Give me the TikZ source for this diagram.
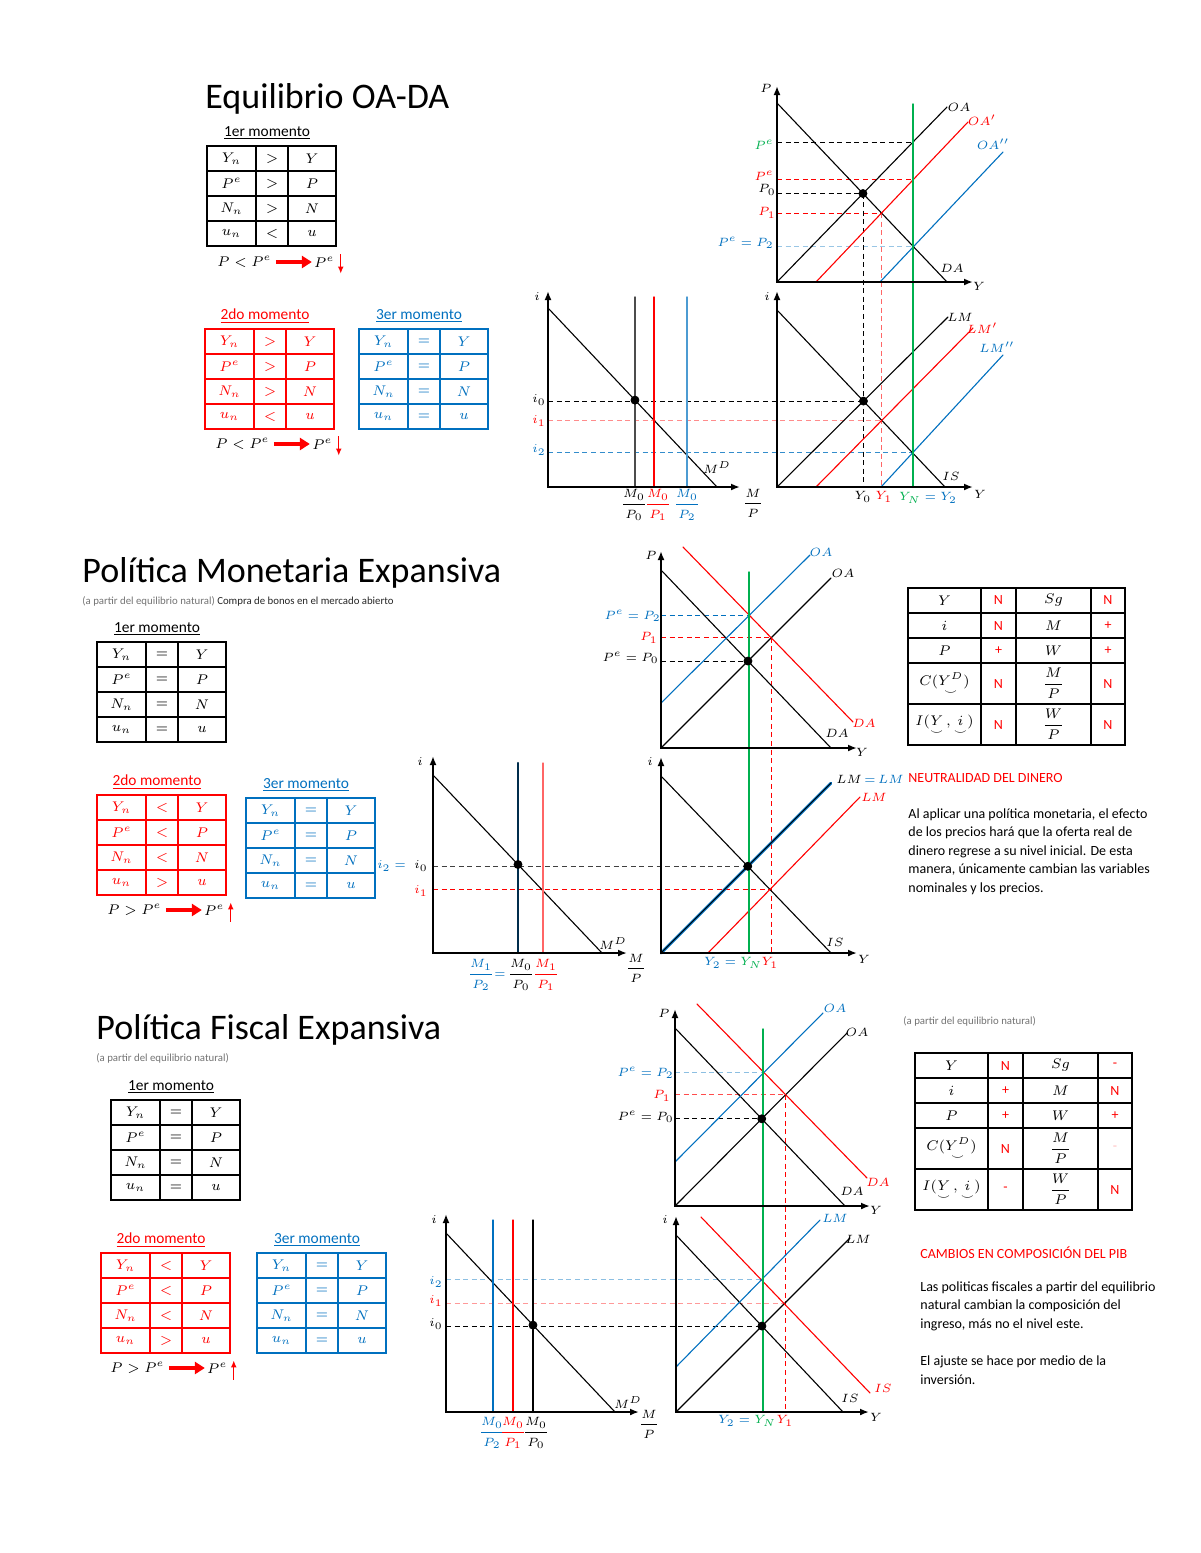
\documentclass[tikz,border=0pt]{standalone}
\usepackage{amsmath}
\usepackage{fontspec}
\setmainfont{Carlito}
\usetikzlibrary{arrows,arrows.meta,calc,positioning}
\usepackage{tkz-euclide}
\definecolor{RedClr}{rgb}{1,0,0}
\definecolor{BlueClr}{rgb}{0,0.44,0.75}
\definecolor{GreenClr}{rgb}{0,0.69,0.31}
\definecolor{GrayClr}{rgb}{0.45,0.45,0.45}

\tikzset{
  bigtitle/.style={font=\fontsize{18}{22}\selectfont,anchor=west,inner sep=0pt},
  subtitle/.style={font=\fontsize{5.4}{7}\selectfont,anchor=west,inner sep=0pt,text=GrayClr},
  momtitle/.style={font=\fontsize{7.7}{9}\selectfont,inner sep=0pt},
  tabcell/.style={font=\fontsize{7.5}{9}\selectfont,inner sep=0pt},
  signcell/.style={font=\fontsize{7}{8}\selectfont,inner sep=0pt,text=RedClr},
  tabline/.style={line width=0.6pt},
  capt/.style={font=\fontsize{7.5}{9}\selectfont,inner sep=0pt},
  bigarrow/.style={RedClr,line width=1.6pt,-{Triangle[length=5pt,width=6pt]},shorten <=2pt,shorten >=1pt},
  downarr/.style={RedClr,line width=0.7pt,-{Latex[length=3.5pt,width=3pt]}},
  uparr/.style={RedClr,line width=0.7pt,{Latex[length=3.5pt,width=3pt]}-},
  axisln/.style={line width=1.3pt,{Latex[length=4.5pt,width=3.5pt]}-{Latex[length=4.5pt,width=3.5pt]},line join=miter},
  curve/.style={line width=0.55pt},
  dashln/.style={line width=0.45pt,dash pattern=on 2.5pt off 1.8pt},
  glab/.style={font=\fontsize{6.5}{8}\selectfont,inner sep=0pt},
  redhead/.style={font=\fontsize{7}{9}\selectfont,anchor=west,inner sep=0pt,text=RedClr},
  para/.style={font=\fontsize{7}{9.3}\selectfont,anchor=north west,inner sep=0pt,align=left},
}

% tabla de momentos: x, y, color, titulo, signos, nombre
\newcommand{\MomTab}[9]{%
  \begin{scope}[shift={(#1,#2)}]
    \node[momtitle,text=#3] (#9t) at (60,-13) {\underline{#4}};
    \draw[tabline,draw=#3] (0,0) rectangle (129,100);
    \draw[tabline,draw=#3] (49,0) -- (49,100) (81,0) -- (81,100)
      (0,25) -- (129,25) (0,50) -- (129,50) (0,75) -- (129,75);
    \node[tabcell,text=#3] (#9a) at (24.5,12.5) {$Y_n$};
    \node[tabcell,text=#3] (#9b) at (24.5,37.5) {$P^e$};
    \node[tabcell,text=#3] (#9c) at (24.5,62.5) {$N_n$};
    \node[tabcell,text=#3] (#9d) at (24.5,87.5) {$u_n$};
    \node[tabcell,text=#3] (#9e) at (65,12.5) {$#5$};
    \node[tabcell,text=#3] (#9f) at (65,37.5) {$#6$};
    \node[tabcell,text=#3] (#9g) at (65,62.5) {$#7$};
    \node[tabcell,text=#3] (#9h) at (65,87.5) {$#8$};
    \node[tabcell,text=#3] (#9i) at (105,12.5) {$Y$};
    \node[tabcell,text=#3] (#9j) at (105,37.5) {$P$};
    \node[tabcell,text=#3] (#9k) at (105,62.5) {$N$};
    \node[tabcell,text=#3] (#9l) at (105,87.5) {$u$};
  \end{scope}}

% P y P^e con flechas
\newcommand{\PeCap}[5]{%
  \node[capt,anchor=west] (#5a) at (#1,#2) {$#3$};
  \node[capt,right=21pt of #5a] (#5b) {$P^e$};
  \draw[bigarrow] (#5a) -- (#5b);
  \draw[#4] ([xshift=3pt,yshift=1pt]#5b.north east) -- ([xshift=3pt,yshift=-3pt]#5b.south east);}

% tabla de signos
\newcommand{\SignTab}[5]{%
  \begin{scope}[shift={(#1,#2)}]
    \draw[tabline] (0,0) rectangle (217,157);
    \draw[tabline] (73,0) -- (73,157) (108,0) -- (108,157) (183,0) -- (183,157)
      (0,25) -- (217,25) (0,50) -- (217,50) (0,75) -- (217,75) (0,116) -- (217,116);
    \node[tabcell] (#3a) at (36.5,12.5) {$Y$};
    \node[tabcell] (#3b) at (36.5,37.5) {$i$};
    \node[tabcell] (#3c) at (36.5,62.5) {$P$};
    \node[tabcell] (#3d) at (36.5,97) {$C(\underset{\smile}{Y^D})$};
    \node[tabcell] (#3e) at (36.5,138) {$I(\underset{\smile}{Y}\,,\underset{\smile}{i})$};
    \node[tabcell] (#3f) at (145.5,12.5) {$Sg$};
    \node[tabcell] (#3g) at (145.5,37.5) {$M$};
    \node[tabcell] (#3h) at (145.5,62.5) {$W$};
    \node[tabcell] (#3i) at (145.5,95.5) {$\displaystyle\frac{M}{P}$};
    \node[tabcell] (#3j) at (145.5,136.5) {$\displaystyle\frac{W}{P}$};
    \foreach \s [count=\r] in {#4} {
      \pgfmathsetmacro{\yy}{{12.5,37.5,62.5,95.5,136.5}[\r-1]}
      \node[signcell] (#3p\r) at (90.5,\yy) {\s};}
    \foreach \s [count=\r] in {#5} {
      \pgfmathsetmacro{\yy}{{12.5,37.5,62.5,95.5,136.5}[\r-1]}
      \node[signcell] (#3q\r) at (200,\yy) {\s};}
  \end{scope}}

\begin{document}
\begin{tikzpicture}[x=0.5pt,y=-0.5pt]
\useasboundingbox[fill=white] (0,0) rectangle (1200,1553);
\tkzSetUpPoint[fill=black]

%%%%%%%%%%%%%%%% Equilibrio OA-DA
\node[bigtitle] (tit1) at (205,99) {Equilibrio OA-DA};
\MomTab{207}{146}{black}{1er momento}{>}{>}{>}{<}{mA}
\PeCap{217}{262}{P < P^e}{downarr}{cA}
\MomTab{205}{329}{RedClr}{2do momento}{>}{>}{>}{<}{mB}
\PeCap{215}{444}{P < P^e}{downarr}{cB}
\MomTab{359}{329}{BlueClr}{3er momento}{=}{=}{=}{=}{mC}

% OA-DA
\tkzDefPoints{777/282/Oa,777/86/Ta,973/282/Ra,777/103/Da1,947/282/Da2,947/107/Sa1,816/282/Sb0,968/122/Sb1,880/282/Sc0,1003/152/Sc1,913/104/Ga1,913/487/Ga2}
\coordinate (Ea) at (intersection of Oa--Sa1 and Da1--Da2);
\coordinate (Eb) at (intersection of Sb0--Sb1 and Da1--Da2);
\coordinate (Ec) at (intersection of Sc0--Sc1 and Da1--Da2);
\coordinate (Qa) at (intersection of Oa--Sa1 and Ga1--Ga2);
\coordinate (Qb) at (intersection of Sb0--Sb1 and Ga1--Ga2);
% IS-LM
\tkzDefPoints{777/487/Ob,777/291/Tb,973/487/Rb,777/310/Ib1,945/487/Ib2,948/317/Lb1,816/487/Lc0,973/328/Lc1,881/487/Ld0,1003/355/Ld1}
\coordinate (Ka) at (intersection of Ib1--Ib2 and Ob--Lb1);
\coordinate (Kb) at (intersection of Ib1--Ib2 and Lc0--Lc1);
\coordinate (Kc) at (intersection of Ib1--Ib2 and Ld0--Ld1);
% mercado de dinero
\tkzDefPoints{548/487/Oc,548/291/Tc,740/487/Rc,548/308/Md1,717/487/Md2,635/297/Va1,635/487/Va2,654/297/Vb1,654/487/Vb2,687/297/Vc1,687/487/Vc2}
\coordinate (Ua) at (intersection of Md1--Md2 and Va1--Va2);

\draw[dashln] (Oa |- Qa) -- (Qa);
\draw[dashln,RedClr] (Oa |- Qb) -- (Qb);
\draw[dashln] (Oa |- Ea) -- (Ea);
\draw[dashln,RedClr] (Oa |- Eb) -- (Eb);
\draw[dashln,BlueClr!40] (Oa |- Ec) -- (Ec);
\draw[dashln] (Ea) -- (Ea |- Ob);
\draw[dashln,RedClr!60] (Eb) -- (Eb |- Ob);
\draw[dashln] (Oc |- Ka) -- (Ka);
\draw[dashln,RedClr!45] (Oc |- Kb) -- (Kb);
\draw[dashln,BlueClr!80] (Oc |- Kc) -- (Kc);

\tkzDrawSegments[curve](Da1,Da2 Oa,Sa1 Ib1,Ib2 Ob,Lb1 Md1,Md2)
\tkzDrawSegments[curve,RedClr](Sb0,Sb1 Lc0,Lc1)
\tkzDrawSegments[curve,BlueClr](Sc0,Sc1 Ld0,Ld1)
\tkzDrawSegment[line width=0.75pt,GreenClr](Ga1,Ga2)
\tkzDrawSegment[line width=0.75pt,black!70](Va1,Va2)
\tkzDrawSegment[line width=0.75pt,RedClr](Vb1,Vb2)
\tkzDrawSegment[line width=0.75pt,BlueClr!70](Vc1,Vc2)
\draw[axisln] (Ta) -- (Oa) -- (Ra);
\draw[axisln] (Tb) -- (Ob) -- (Rb);
\draw[axisln] (Tc) -- (Oc) -- (Rc);
\tkzDrawPoints[size=4](Ea,Ka,Ua)

\node[glab] (lPa) at (766,88) {$P$};
\node[glab] (lYa) at (979,286) {$Y$};
\node[glab] (lOAa) at (959,107) {$OA$};
\node[glab,text=RedClr] (lOAb) at (982,120) {$OA'$};
\node[glab,text=BlueClr] (lOAc) at (993,144) {$OA''$};
\node[glab] (lDAa) at (952,268) {$DA$};
\node[glab,anchor=east,text=GreenClr] (lPea) at (774,145) {$P^e$};
\node[glab,anchor=east,text=RedClr] (lPeb) at (774,176) {$P^e$};
\node[glab,anchor=east] (lP0a) at (776,190) {$P_0$};
\node[glab,anchor=east,text=RedClr] (lP1a) at (776,213) {$P_1$};
\node[glab,anchor=east,text=BlueClr] (lP2a) at (774,243) {$P^e = P_2$};
\node[glab] (lia) at (767,297) {$i$};
\node[glab] (lYb) at (980,494) {$Y$};
\node[glab] (lLMa) at (960,317) {$LM$};
\node[glab,text=RedClr] (lLMb) at (982,328) {$LM'$};
\node[glab,text=BlueClr] (lLMc) at (997,347) {$LM''$};
\node[glab] (lISa) at (951,476) {$IS$};
\node[glab] (lY0a) at (863,497) {$Y_0$};
\node[glab,text=RedClr] (lY1a) at (884,497) {$Y_1$};
\node[glab] (lYNa) at (928,498) {$\textcolor{GreenClr}{Y_N}\textcolor{BlueClr}{{}= Y_2}$};
\node[glab] (lib) at (537,297) {$i$};
\node[glab,anchor=east] (li0a) at (546,400) {$i_0$};
\node[glab,anchor=east,text=RedClr] (li1a) at (546,421) {$i_1$};
\node[glab,anchor=east,text=BlueClr] (li2a) at (546,450) {$i_2$};
\node[glab] (lMDa) at (717,468) {$M^D$};
\node[glab] (lMPa) at (753,503) {$\displaystyle\frac{M}{P}$};
\node[glab] (lfa0) at (634,505) {$\displaystyle\frac{M_0}{P_0}$};
\node[glab,text=RedClr] (lfa1) at (658,505) {$\displaystyle\frac{M_0}{P_1}$};
\node[glab,text=BlueClr] (lfa2) at (687,505) {$\displaystyle\frac{M_0}{P_2}$};

%%%%%%%%%%%%%%%% Politica monetaria
\node[bigtitle] (tit2) at (82,573) {Política Monetaria Expansiva};
\node[subtitle] (sub2) at (82,601) {(a partir del equilibrio natural) \textcolor{black!85}{Compra de bonos en el mercado abierto}};
\MomTab{97}{642}{black}{1er momento}{=}{=}{=}{=}{mD}
\MomTab{97}{795}{RedClr}{2do momento}{<}{<}{<}{>}{mE}
\PeCap{107}{910}{P > P^e}{uparr}{cC}
\MomTab{246}{798}{BlueClr}{3er momento}{=}{=}{=}{=}{mF}

\tkzDefPoints{661/748/Od,661/551/Td,857/748/Rd,661/570/Dd1,831/748/Dd2,831/578/Sd1,661/703/Se0,810/555/Se1,683/547/De1,853/722/De2,749/572/Gd1,749/953/Gd2}
\coordinate (Ed) at (intersection of Od--Sd1 and Dd1--Dd2);
\coordinate (Ee) at (intersection of Se0--Se1 and De1--De2);
\coordinate (Ef) at (intersection of Od--Sd1 and De1--De2);
\tkzDefPoints{661/953/Of,661/757/Tf,857/953/Rf,661/776/If1,831/953/If2,831/783/Lf1,708/953/Lg0,860/797/Lg1}
\coordinate (Kf) at (intersection of If1--If2 and Of--Lf1);
\coordinate (Kg) at (intersection of If1--If2 and Lg0--Lg1);
\tkzDefPoints{433/953/Oe,433/756/Te,627/953/Re,433/775/Me1,602/953/Me2,518/763/Wa1,518/953/Wa2,543/763/Wb1,543/953/Wb2}
\coordinate (Ue) at (intersection of Me1--Me2 and Wa1--Wa2);

\draw[dashln,BlueClr] (Od |- Ee) -- (Ee);
\draw[dashln,RedClr] (Od |- Ef) -- (Ef);
\draw[dashln] (Od |- Ed) -- (Ed);
\draw[dashln,RedClr] (Ef) -- (Ef |- Of);
\draw[dashln,black!75] (Oe |- Kf) -- (Kf);
\draw[dashln,RedClr] (Oe |- Kg) -- (Kg);

\tkzDrawSegments[curve](Dd1,Dd2 Od,Sd1 If1,If2 Me1,Me2)
\tkzDrawSegments[curve,RedClr](De1,De2 Lg0,Lg1)
\tkzDrawSegment[curve,BlueClr](Se0,Se1)
\tkzDrawSegment[line width=1.4pt,BlueClr](Of,Lf1)
\tkzDrawSegment[line width=0.45pt](Of,Lf1)
\tkzDrawSegment[line width=0.75pt,GreenClr](Gd1,Gd2)
\tkzDrawSegment[line width=1.2pt,BlueClr!40!black](Wa1,Wa2)
\tkzDrawSegment[line width=0.6pt,RedClr!60](Wb1,Wb2)
\draw[axisln] (Td) -- (Od) -- (Rd);
\draw[axisln] (Tf) -- (Of) -- (Rf);
\draw[axisln] (Te) -- (Oe) -- (Re);
\tkzDrawPoints[size=4](Ed,Kf,Ue)

\node[glab] (lPb) at (651,555) {$P$};
\node[glab] (lYc) at (862,752) {$Y$};
\node[glab,text=BlueClr] (lOAd) at (821,552) {$OA$};
\node[glab] (lOAe) at (843,573) {$OA$};
\node[glab,text=RedClr] (lDAb) at (864,723) {$DA$};
\node[glab] (lDAc) at (837,733) {$DA$};
\node[glab,anchor=east,text=BlueClr] (lP2b) at (661,616) {$P^e = P_2$};
\node[glab,anchor=east,text=RedClr] (lP1b) at (658,638) {$P_1$};
\node[glab,anchor=east] (lP0b) at (659,658) {$P^e = P_0$};
\node[glab] (lic) at (420,762) {$i$};
\node[glab,anchor=east] (li20) at (428,866) {$\textcolor{BlueClr}{i_2 ={}}\; i_0$};
\node[glab,anchor=east,text=RedClr] (li1b) at (428,891) {$i_1$};
\node[glab] (lMDb) at (613,944) {$M^D$};
\node[glab] (lMPb) at (636,968) {$\displaystyle\frac{M}{P}$};
\node[glab,text=BlueClr] (lfb2) at (481,975) {$\displaystyle\frac{M_1}{P_2}$};
\node[glab,text=BlueClr] (lfbe) at (500,975) {$=$};
\node[glab] (lfb0) at (521,975) {$\displaystyle\frac{M_0}{P_0}$};
\node[glab,text=RedClr] (lfb1) at (546,975) {$\displaystyle\frac{M_1}{P_1}$};
\node[glab] (lid) at (650,762) {$i$};
\node[glab] (lYd) at (864,959) {$Y$};
\node[glab,anchor=west] (lLMd) at (836,779) {$LM\textcolor{BlueClr}{\,{=}\,LM}$};
\node[glab,text=RedClr] (lLMe) at (874,797) {$LM$};
\node[glab] (lISb) at (835,942) {$IS$};
\node[glab] (lY2b) at (733,963) {$\textcolor{BlueClr}{Y_2 ={}} \textcolor{GreenClr}{Y_N}$};
\node[glab,text=RedClr] (lY1b) at (770,963) {$Y_1$};

\SignTab{908}{588}{sA}{N,N,+,N,N}{N,+,+,N,N}
\node[redhead] (neut) at (908,778) {NEUTRALIDAD DEL DINERO};
\node[para] (parA) at (908,808) {Al aplicar una política monetaria, el efecto\\de los precios hará que la oferta real de\\dinero regrese a su nivel inicial. De esta\\manera, únicamente cambian las variables\\nominales y los precios.};

%%%%%%%%%%%%%%%% Politica fiscal
\node[bigtitle] (tit3) at (96,1030) {Política Fiscal Expansiva};
\node[subtitle] (sub3) at (96,1058) {(a partir del equilibrio natural)};
\MomTab{111}{1100}{black}{1er momento}{=}{=}{=}{=}{mG}
\MomTab{101}{1253}{RedClr}{2do momento}{<}{<}{<}{>}{mH}
\PeCap{110}{1368}{P > P^e}{uparr}{cD}
\MomTab{257}{1253}{BlueClr}{3er momento}{=}{=}{=}{=}{mI}

\tkzDefPoints{675/1206/Og,675/1009/Tg,870/1206/Rg,675/1028/Dg1,845/1206/Dg2,847/1033/Sg1,675/1162/Sh0,823/1013/Sh1,697/1004/Dh1,867/1178/Dh2,763/1029/Gg1,763/1412/Gg2}
\coordinate (Eg) at (intersection of Og--Sg1 and Dg1--Dg2);
\coordinate (Eh) at (intersection of Sh0--Sh1 and Dh1--Dh2);
\coordinate (Ei) at (intersection of Og--Sg1 and Dh1--Dh2);
\tkzDefPoints{676/1412/Oi,676/1216/Ti,869/1412/Ri,676/1235/Ii1,843/1412/Ii2,850/1238/Li1,676/1367/Lj0,820/1220/Lj1,701/1217/Ij1,870/1393/Ij2}
\coordinate (Ki) at (intersection of Ii1--Ii2 and Oi--Li1);
\coordinate (Kj) at (intersection of Lj0--Lj1 and Ij1--Ij2);
\coordinate (Kk) at (intersection of Oi--Li1 and Ij1--Ij2);
\tkzDefPoints{446/1412/Oh,446/1214/Th,639/1412/Rh,446/1233/Mh1,615/1412/Mh2,493/1220/Xa1,493/1412/Xa2,513/1220/Xb1,513/1412/Xb2,533/1220/Xc1,533/1412/Xc2}
\coordinate (Uh) at (intersection of Mh1--Mh2 and Xc1--Xc2);

\draw[dashln,BlueClr!45] (Og |- Eh) -- (Eh);
\draw[dashln,RedClr!70] (Og |- Ei) -- (Ei);
\draw[dashln] (Og |- Eg) -- (Eg);
\draw[dashln,RedClr] (Ei) -- (Ei |- Oi);
\draw[dashln,BlueClr!45] (Oh |- Kj) -- (Kj);
\draw[dashln,RedClr!40] (Oh |- Kk) -- (Kk);
\draw[dashln] (Oh |- Ki) -- (Ki);

\tkzDrawSegments[curve](Dg1,Dg2 Og,Sg1 Ii1,Ii2 Oi,Li1 Mh1,Mh2)
\tkzDrawSegments[curve,RedClr](Dh1,Dh2 Ij1,Ij2)
\tkzDrawSegments[curve,BlueClr](Sh0,Sh1 Lj0,Lj1)
\tkzDrawSegment[line width=0.75pt,GreenClr](Gg1,Gg2)
\tkzDrawSegment[line width=0.6pt,BlueClr](Xa1,Xa2)
\tkzDrawSegment[line width=0.6pt,RedClr](Xb1,Xb2)
\tkzDrawSegment[line width=0.6pt](Xc1,Xc2)
\draw[axisln] (Tg) -- (Og) -- (Rg);
\draw[axisln] (Ti) -- (Oi) -- (Ri);
\draw[axisln] (Th) -- (Oh) -- (Rh);
\tkzDrawPoints[size=4](Eg,Ki,Uh)

\node[glab] (lPc) at (664,1013) {$P$};
\node[glab] (lYe) at (876,1210) {$Y$};
\node[glab,text=BlueClr] (lOAf) at (835,1008) {$OA$};
\node[glab] (lOAg) at (857,1032) {$OA$};
\node[glab,text=RedClr] (lDAd) at (878,1182) {$DA$};
\node[glab] (lDAe) at (852,1191) {$DA$};
\node[glab,anchor=east,text=BlueClr] (lP2c) at (674,1073) {$P^e = P_2$};
\node[glab,anchor=east,text=RedClr] (lP1c) at (671,1096) {$P_1$};
\node[glab,anchor=east] (lP0c) at (674,1117) {$P^e = P_0$};
\node[glab] (lie) at (434,1220) {$i$};
\node[glab,anchor=east,text=BlueClr] (li2c) at (443,1282) {$i_2$};
\node[glab,anchor=east,text=RedClr] (li1c) at (443,1301) {$i_1$};
\node[glab,anchor=east] (li0c) at (443,1324) {$i_0$};
\node[glab] (lMDc) at (628,1403) {$M^D$};
\node[glab] (lMPc) at (649,1424) {$\displaystyle\frac{M}{P}$};
\node[glab,text=BlueClr] (lfc2) at (492,1433) {$\displaystyle\frac{M_0}{P_2}$};
\node[glab,text=RedClr] (lfc1) at (513,1433) {$\displaystyle\frac{M_0}{P_1}$};
\node[glab] (lfc0) at (536,1433) {$\displaystyle\frac{M_0}{P_0}$};
\node[glab] (lif) at (665,1220) {$i$};
\node[glab] (lYf) at (876,1417) {$Y$};
\node[glab,text=BlueClr] (lLMf) at (835,1218) {$LM$};
\node[glab] (lLMg) at (858,1239) {$LM$};
\node[glab,text=RedClr] (lISc) at (883,1388) {$IS$};
\node[glab] (lISd) at (850,1398) {$IS$};
\node[glab] (lY2c) at (747,1421) {$\textcolor{BlueClr}{Y_2 ={}} \textcolor{GreenClr}{Y_N}$};
\node[glab,text=RedClr] (lY1c) at (785,1421) {$Y_1$};

\node[subtitle] (sub4) at (903,1021) {(a partir del equilibrio natural)};
\SignTab{915}{1053}{sB}{N,+,+,N,-}{-,N,+,\textcolor{RedClr!25}{-},N}
\node[redhead] (camb) at (920,1253) {CAMBIOS EN COMPOSICIÓN DEL PIB};
\node[para] (parB) at (920,1281) {Las politicas fiscales a partir del equilibrio\\natural cambian la composición del\\ingreso, más no el nivel este.\\[9.3pt]El ajuste se hace por medio de la\\inversión.};

\end{tikzpicture}
\end{document}
